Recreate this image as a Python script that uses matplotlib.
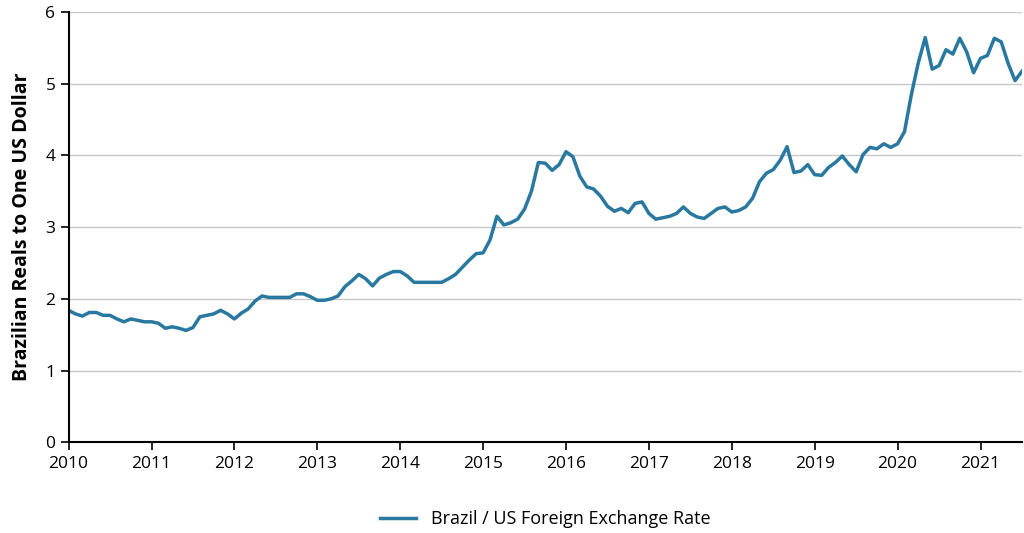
import numpy as np
import matplotlib.pyplot as plt

plt.rcParams['font.family'] = ['Open Sans', 'DejaVu Sans']

# monthly Brazil / US exchange rate, Jan 2010 - Jul 2021
rate = [
    1.84, 1.79, 1.76, 1.81, 1.81, 1.77, 1.77, 1.72, 1.68, 1.72, 1.70,
    1.68, 1.68, 1.66, 1.59, 1.61, 1.59, 1.56, 1.60, 1.75, 1.77, 1.79, 1.84,
    1.79, 1.72, 1.80, 1.86, 1.97, 2.04, 2.02, 2.02, 2.02, 2.02, 2.07, 2.07,
    2.03, 1.98, 1.98, 2.00, 2.04, 2.17, 2.25, 2.34, 2.28, 2.18, 2.29, 2.34,
    2.38, 2.38, 2.32, 2.23, 2.23, 2.23, 2.23, 2.23, 2.28, 2.34, 2.44, 2.54,
    2.63, 2.64, 2.82, 3.15, 3.03, 3.06, 3.11, 3.25, 3.50, 3.90, 3.89, 3.79,
    3.87, 4.05, 3.98, 3.71, 3.56, 3.53, 3.43, 3.29, 3.22, 3.26, 3.20, 3.33,
    3.35, 3.19, 3.11, 3.13, 3.15, 3.19, 3.28, 3.19, 3.14, 3.12, 3.19, 3.26,
    3.28, 3.21, 3.23, 3.28, 3.40, 3.63, 3.75, 3.80, 3.93, 4.12, 3.76, 3.78,
    3.87, 3.73, 3.72, 3.83, 3.90, 3.99, 3.87, 3.77, 4.01, 4.11, 4.09, 4.16,
    4.11, 4.16, 4.33, 4.85, 5.29, 5.64, 5.20, 5.25, 5.47, 5.41, 5.63, 5.44,
    5.15, 5.35, 5.39, 5.63, 5.58, 5.28, 5.04, 5.17,
]
years = 2010 + np.arange(len(rate)) / 12
year_ticks = list(range(2010, 2022))

fig, ax = plt.subplots(figsize=(10.24, 5.33), dpi=100)
fig.subplots_adjust(left=0.067, right=0.998, top=0.978, bottom=0.17)

ax.plot(years, rate, color='#2878a0', lw=2.5, label='Brazil / US Foreign Exchange Rate')

ax.set_xlim(2010, years[-1])
ax.set_ylim(0, 6)
ax.set_xticks(year_ticks)
ax.set_yticks(range(7))
ax.tick_params(labelsize=12.5, direction='out', length=6, width=1.2)
ax.grid(axis='y', color='#c8c8c8', lw=1)
ax.set_axisbelow(True)
for s in ['top', 'right']:
    ax.spines[s].set_visible(False)
for s in ['left', 'bottom']:
    ax.spines[s].set_linewidth(1.5)
ax.set_ylabel('Brazilian Reals to One US Dollar', fontsize=14, fontweight='bold', labelpad=10)

ax.legend(loc='upper center', bbox_to_anchor=(0.5, -0.12), frameon=False, fontsize=13)

plt.savefig('out.png', dpi=100)
